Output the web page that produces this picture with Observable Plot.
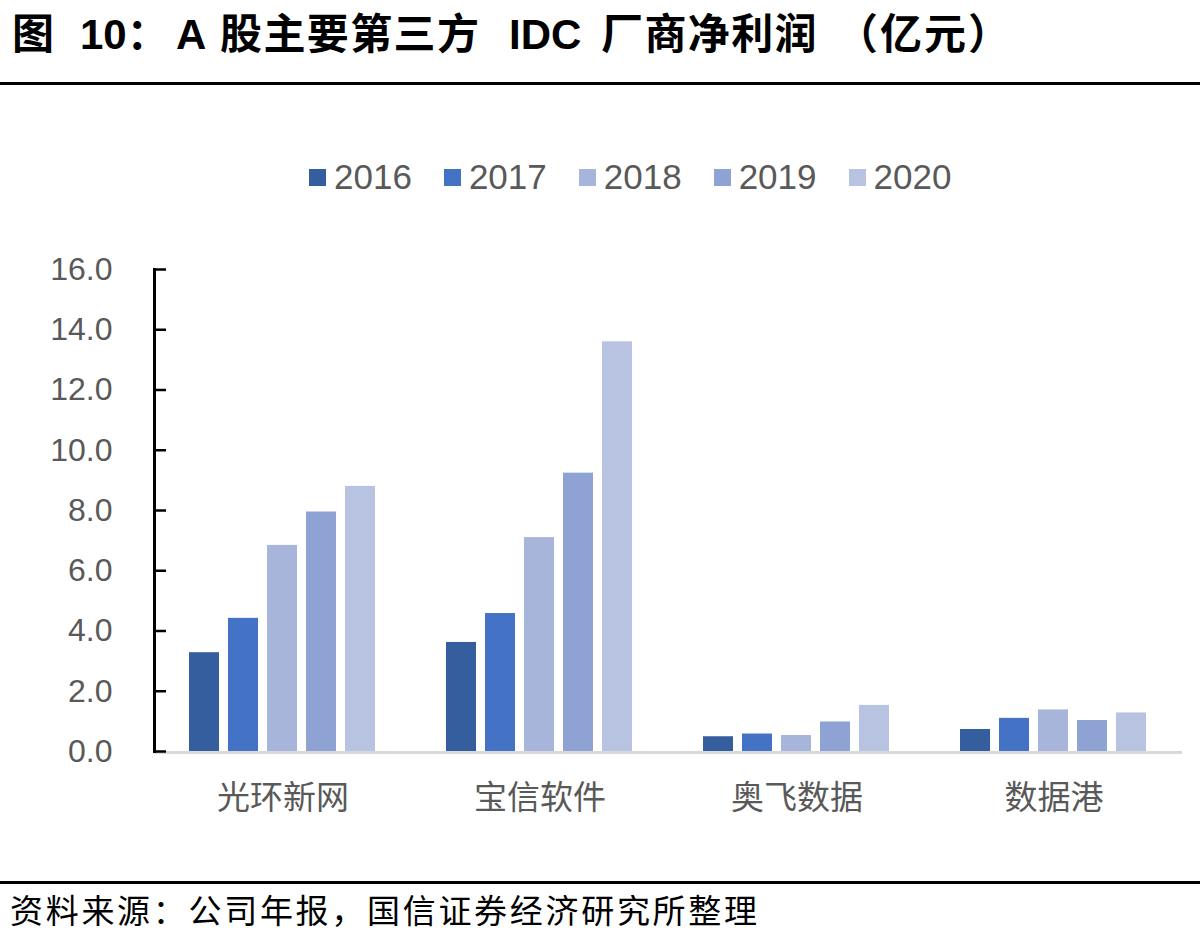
<!DOCTYPE html>
<html>
<head>
<meta charset="utf-8">
<script src="https://cdn.jsdelivr.net/npm/d3@7"></script>
<script src="https://cdn.jsdelivr.net/npm/@observablehq/plot@0.6"></script>
<style>
  html, body { margin: 0; padding: 0; background: #fff; }
  #page { position: relative; width: 1200px; height: 946px; overflow: hidden; font-family: "Liberation Sans", "Noto Sans CJK SC", sans-serif; }
  #title { position: absolute; left: 0; top: 0px; width: 1200px; height: 70px; font-size: 42px; font-weight: bold; color: #000; white-space: nowrap; font-family: "Liberation Sans", "Noto Sans CJK SC", sans-serif; }
  #title span { position: absolute; top: 0; display: block; line-height: 70px; font-family: "Liberation Sans", "Noto Sans CJK SC", sans-serif; }
  #title .cjk { letter-spacing: 1.4px; }
  #rule1 { position: absolute; left: 0; top: 82px; width: 1200px; height: 3px; background: #000; }
  #legend { position: absolute; left: 309px; top: 155px; height: 44px; display: flex; align-items: center; gap: 32px; color: #595959; font-size: 35px; }
  .item { display: flex; align-items: center; gap: 8px; }
  .sw { width: 17px; height: 17px; display: inline-block; }
  #chart { position: absolute; left: 0; top: 240px; }
  #rule2 { position: absolute; left: 0; top: 881px; width: 1200px; height: 3px; background: #000; }
  #caption { position: absolute; left: 10px; top: 885px; font-size: 33px; letter-spacing: 2.7px; color: #000; white-space: nowrap; font-family: "Noto Sans CJK SC", sans-serif; }
</style>
</head>
<body>
<div id="page">
  <div id="title" aria-label="图 10：A 股主要第三方 IDC 厂商净利润（亿元）"><span class="cjk" style="left:12px">图</span><span style="left:80px">10：</span><span style="left:176px">A</span><span class="cjk" style="left:220px">股主要第三方</span><span style="left:509px">IDC</span><span class="cjk" style="left:601px">厂商净利润</span><span class="cjk" style="left:836px;letter-spacing:2px">（亿元）</span></div>
  <div id="rule1"></div>
  <div id="legend"></div>
  <div id="chart"></div>
  <div id="rule2"></div>
  <div id="caption">资料来源：公司年报，国信证券经济研究所整理</div>
</div>
<script>
const companies = ["光环新网", "宝信软件", "奥飞数据", "数据港"];
const years = ["2016", "2017", "2018", "2019", "2020"];
const v2016 = [3.28, 3.62, 0.49, 0.73];
const v2017 = [4.42, 4.58, 0.58, 1.10];
const v2018 = [6.84, 7.10, 0.53, 1.38];
const v2019 = [7.95, 9.24, 0.98, 1.03];
const v2020 = [8.80, 13.60, 1.53, 1.28];
const colors = ["#355E9F", "#4472C4", "#A7B5DA", "#8EA2D4", "#B8C3E2"];
const yTicks = [0, 2, 4, 6, 8, 10, 12, 14, 16];

const series = [v2016, v2017, v2018, v2019, v2020];
const data = [];
companies.forEach((c, i) => {
  years.forEach((y, j) => data.push({company: c, year: y, value: series[j][i]}));
});

// legend
const legend = document.getElementById("legend");
years.forEach((y, j) => {
  const it = document.createElement("div");
  it.className = "item";
  it.innerHTML = `<span class="sw" style="background:${colors[j]}"></span><span>${y}</span>`;
  legend.appendChild(it);
});

const chart = Plot.plot({
  width: 1200,
  height: 600,
  marginLeft: 153,
  marginRight: 18,
  marginTop: 29,
  marginBottom: 89,
  style: {fontFamily: "Liberation Sans, Noto Sans CJK SC, sans-serif", background: "#fff"},
  fx: {domain: companies, padding: 0},
  x: {domain: years, paddingInner: 0.22, paddingOuter: 0.86, axis: null},
  y: {domain: [0, 16], ticks: yTicks, axis: null},
  color: {domain: years, range: colors},
  marks: [
    Plot.ruleY([0], {stroke: "#d9d9d9", strokeWidth: 3, dy: 1}),
    Plot.barY(data, {fx: "company", x: "year", y: "value", fill: "year"}),
    Plot.axisY({ticks: yTicks, tickSize: 0, tickPadding: 42, tickFormat: d => d.toFixed(1), fontSize: 32, fill: "#595959", label: null}),
    Plot.axisY({ticks: yTicks, tickSize: 12, text: null, dx: 12, stroke: "#000", strokeWidth: 2.5, label: null}),
    Plot.frame({anchor: "left", facetAnchor: "left", stroke: "#000", strokeWidth: 3}),
    Plot.axisFx({anchor: "bottom", tickSize: 0, tickPadding: 34, fontSize: 33, fill: "#595959", label: null, fontFamily: "Noto Sans CJK SC, sans-serif"})
  ]
});
document.getElementById("chart").appendChild(chart);
</script>
</body>
</html>
